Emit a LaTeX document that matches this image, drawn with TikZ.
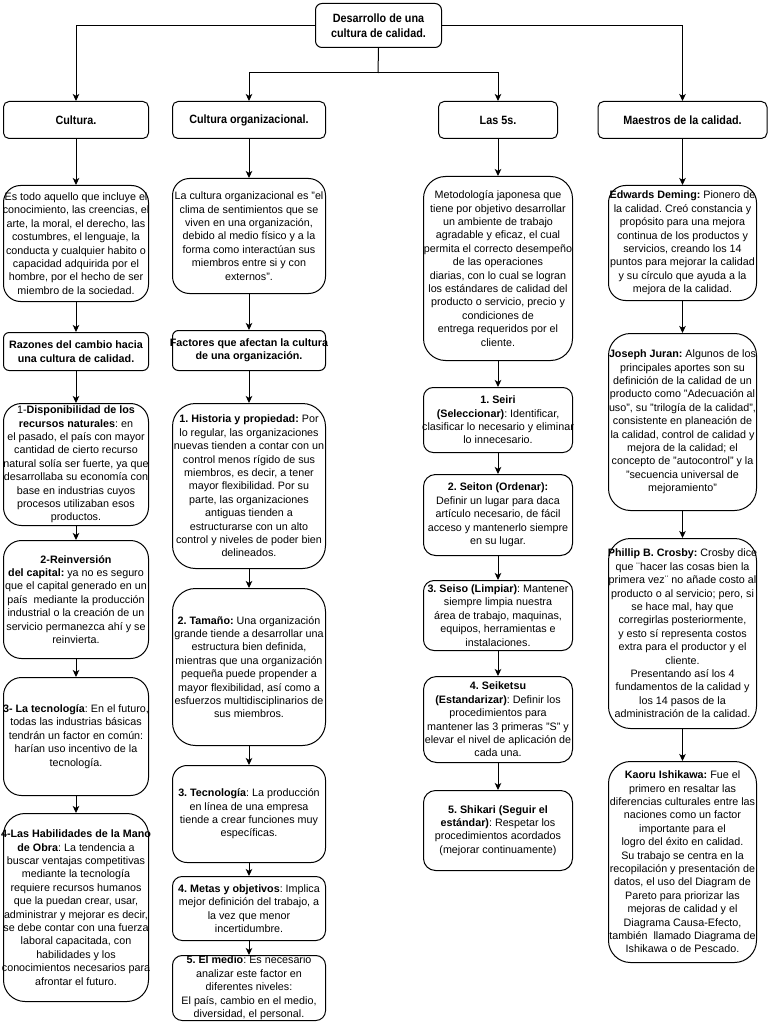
\documentclass[tikz,border=0pt]{standalone}
\usepackage{fontspec}
\setmainfont{Liberation Sans}
\newfontfamily\hdfont{Liberation Sans}[FakeStretch=0.9]
\usetikzlibrary{arrows.meta}
\newcommand\bodyf{\fontsize{10.75}{13.4}\selectfont\frenchspacing}
\newcommand\hdf{\hdfont\bfseries\fontsize{12}{15}\selectfont}
% box with separate text node: name, radius, x, y, w, h, text
\newcommand\bxt[7]{%
  \node[bx=#2pt, minimum width=#5pt, minimum height=#6pt] (#1) at (#3,#4) {};
  \node[txt] (#1t) at (#1.center) {#7};}
\begin{document}
\frenchspacing
\begin{tikzpicture}[x=1pt,y=-1pt,
  bx/.style={draw=black, line width=1pt, fill=white, inner sep=0pt, anchor=north west, rounded corners=#1},
  bx/.default=18pt,
  txt/.style={inner sep=0pt, align=center, font=\bodyf},
  arr/.style={draw=black, line width=1pt, -{Stealth[length=7pt,width=6.5pt,inset=1.8pt]}},
  ln/.style={draw=black, line width=1pt}]
\fill[white] (0,0) rectangle (768,1024);
\useasboundingbox (0,0) rectangle (768,1024);

% root and headers
\node[bx=6.5pt, minimum width=126pt, minimum height=44pt] (root) at (315,3) {};
\node[txt, font=\hdf] (roott) at (root.center) {Desarrollo de una\\cultura de calidad.};
\node[bx=5.5pt, minimum width=145pt, minimum height=37pt] (cul) at (3,101) {};
\node[txt, font=\hdf] (cult) at (cul.center) {Cultura.};
\node[bx=5.5pt, minimum width=153pt, minimum height=37pt] (corg) at (172,101) {};
\node[txt, font=\hdf] (corgt) at (corg.center) {Cultura organizacional.};
\node[bx=5.5pt, minimum width=119pt, minimum height=37pt] (s5) at (438,101) {};
\node[txt, font=\hdf] (s5t) at (s5.center) {Las 5s.};
\node[bx=5.5pt, minimum width=169pt, minimum height=37pt] (mae) at (597.5,101) {};
\node[txt, font=\hdf] (maet) at (mae.center) {Maestros de la calidad.};

% column 1
\bxt{a1}{17}{3}{185}{145}{116}{Es todo aquello que incluye el\\conocimiento, las creencias, el\\arte, la moral, el derecho, las\\costumbres, el lenguaje, la\\conducta y cualquier habito o\\capacidad adquirida por el\\hombre, por el hecho de ser\\miembro de la sociedad.}
\bxt{a2}{5.7}{3}{332}{145}{38}{\textbf{Razones del cambio hacia}\\\textbf{una cultura de calidad.}}
\bxt{a3}{18}{3}{403}{145}{122}{1-\textbf{Disponibilidad de los}\\\textbf{recursos naturales}: en\\el pasado, el país con mayor\\cantidad de cierto recurso\\natural solía ser fuerte, ya que\\desarrollaba su economía con\\base en industrias cuyos\\procesos utilizaban esos\\productos.}
\bxt{a4}{18}{3}{540}{145}{118}{\textbf{2-Reinversión}\\\textbf{del capital:} ya no es seguro\\que el capital generado en un\\país~ mediante la producción\\industrial o la creación de un\\servicio permanezca ahí y se\\reinvierta.}
\bxt{a5}{18}{3}{677}{145}{118}{\textbf{3- La tecnología}: En el futuro,\\todas las industrias básicas\\tendrán un factor en común:\\harían uso incentivo de la\\tecnología.}
\bxt{a6}{21.5}{3}{813}{145}{188}{\textbf{4-Las Habilidades de la Mano}\\\textbf{de Obra}: La tendencia a\\buscar ventajas competitivas\\mediante la tecnología\\requiere recursos humanos\\que la puedan crear, usar,\\administrar y mejorar es decir,\\se debe contar con una fuerza\\laboral capacitada, con\\habilidades y los\\conocimientos necesarios para\\afrontar el futuro.}

% column 2
\bxt{b1}{17}{172}{178}{153}{115}{La cultura organizacional es "el\\clima de sentimientos que se\\viven en una organización,\\debido al medio físico y a la\\forma como interactúan sus\\miembros entre si y con\\externos".}
\bxt{b2}{6}{172}{330}{153}{40}{\textbf{Factores que afectan la cultura}\\\textbf{de una organización.}}
\bxt{b3}{23}{172}{403}{153}{165}{\textbf{1. Historia y propiedad:} Por\\lo regular, las organizaciones\\nuevas tienden a contar con un\\control menos rígido de sus\\miembros, es decir, a tener\\mayor flexibilidad. Por su\\parte, las organizaciones\\antiguas tienden a\\estructurarse con un alto\\control y niveles de poder bien\\delineados.}
\bxt{b4}{23}{172}{588}{153}{157}{\textbf{2. Tamaño:} Una organización\\grande tiende a desarrollar una\\estructura bien definida,\\mientras que una organización\\pequeña puede propender a\\mayor flexibilidad, así como a\\esfuerzos multidisciplinarios de\\sus miembros.}
\bxt{b5}{14.5}{172}{765}{153}{97}{\textbf{3. Tecnología}: La producción\\en línea de una empresa\\tiende a crear funciones muy\\específicas.}
\bxt{b6}{9.6}{172}{876}{153}{64}{\textbf{4. Metas y objetivos}: Implica\\mejor definición del trabajo, a\\la vez que menor\\incertidumbre.}
\bxt{b7}{9.7}{172}{955}{153}{65}{\textbf{5. El medio}: Es necesario\\analizar este factor en\\diferentes niveles:\\El país, cambio en el medio,\\diversidad, el personal.}

% column 3
\bxt{c1}{22}{423}{176}{149}{184}{Metodología japonesa que\\tiene por objetivo desarrollar\\un ambiente de trabajo\\agradable y eficaz, el cual\\permita el correcto desempeño\\de las operaciones\\diarias, con lo cual se logran\\los estándares de calidad del\\producto o servicio, precio y\\condiciones de\\entrega requeridos por el\\cliente.}
\bxt{c2}{9.7}{423}{387}{149}{65}{\textbf{1. Seiri}\\\textbf{(Seleccionar)}: Identificar,\\clasificar lo necesario y eliminar\\lo innecesario.}
\bxt{c3}{12}{423}{474}{149}{81}{\textbf{2. Seiton (Ordenar):}\\Definir un lugar para daca\\artículo necesario, de fácil\\acceso y mantenerlo siempre\\en su lugar.}
\bxt{c4}{10.5}{423}{580}{149}{70}{\textbf{3. Seiso (Limpiar)}: Mantener\\siempre limpia nuestra\\área de trabajo, maquinas,\\equipos, herramientas e\\instalaciones.}
\bxt{c5}{13}{423}{676}{149}{86}{\textbf{4. Seiketsu}\\\textbf{(Estandarizar)}: Definir los\\procedimientos para\\mantener las 3 primeras "S" y\\elevar el nivel de aplicación de\\cada una.}
\bxt{c6}{12}{423}{790}{149}{80}{\textbf{5. Shikari (Seguir el}\\\textbf{estándar)}: Respetar los\\procedimientos acordados\\(mejorar continuamente)}

% column 4
\bxt{d1}{17}{608}{185}{148}{115}{\textbf{Edwards Deming:} Pionero de\\la calidad. Creó constancia y\\propósito para una mejora\\continua de los productos y\\servicios, creando los 14\\puntos para mejorar la calidad\\y su círculo que ayuda a la\\mejora de la calidad.}
\bxt{d2}{22}{608}{333}{148}{177}{\textbf{Joseph Juran:} Algunos de los\\principales aportes son su\\definición de la calidad de un\\producto como "Adecuación al\\uso", su "trilogía de la calidad",\\consistente en planeación de\\la calidad, control de calidad y\\mejora de la calidad; el\\concepto de "autocontrol" y la\\"secuencia universal de\\mejoramiento"}
\bxt{d3}{22}{608}{538}{148}{190}{\textbf{Phillip B. Crosby:} Crosby dice\\que ¨hacer las cosas bien la\\primera vez¨ no añade costo al\\producto o al servicio; pero, si\\se hace mal, hay que\\corregirlas posteriormente,\\y esto sí representa costos\\extra para el productor y el\\cliente.\\Presentando así los 4\\fundamentos de la calidad y\\los 14 pasos de la\\administración de la calidad.}
\bxt{d4}{22}{608}{761}{148}{201}{\textbf{Kaoru Ishikawa:} Fue el\\primero en resaltar las\\diferencias culturales entre las\\naciones como un factor\\importante para el\\logro del éxito en calidad.\\Su trabajo se centra en la\\recopilación y presentación de\\datos, el uso del Diagram de\\Pareto para priorizar las\\mejoras de calidad y el\\Diagrama Causa-Efecto,\\también~ llamado Diagrama de\\Ishikawa o de Pescado.}

% top connectors
\coordinate (split) at (378,73);
\draw[arr] (root.west) -| (cul.north);
\draw[arr] (root.east) -| (mae.north);
\draw[ln] (root.south) -- (split);
\draw[arr] (split) -| (corg.north);
\draw[arr] (split) -| (s5.north);

% column connectors
\foreach \p/\q in {cul/a1,a1/a2,a2/a3,a3/a4,a4/a5,a5/a6,
                   corg/b1,b1/b2,b2/b3,b3/b4,b4/b5,b5/b6,b6/b7,
                   s5/c1,c1/c2,c2/c3,c3/c4,c4/c5,c5/c6,
                   mae/d1,d1/d2,d2/d3,d3/d4}
  \draw[arr] (\p.south) -- (\q.north);
\end{tikzpicture}
\end{document}
